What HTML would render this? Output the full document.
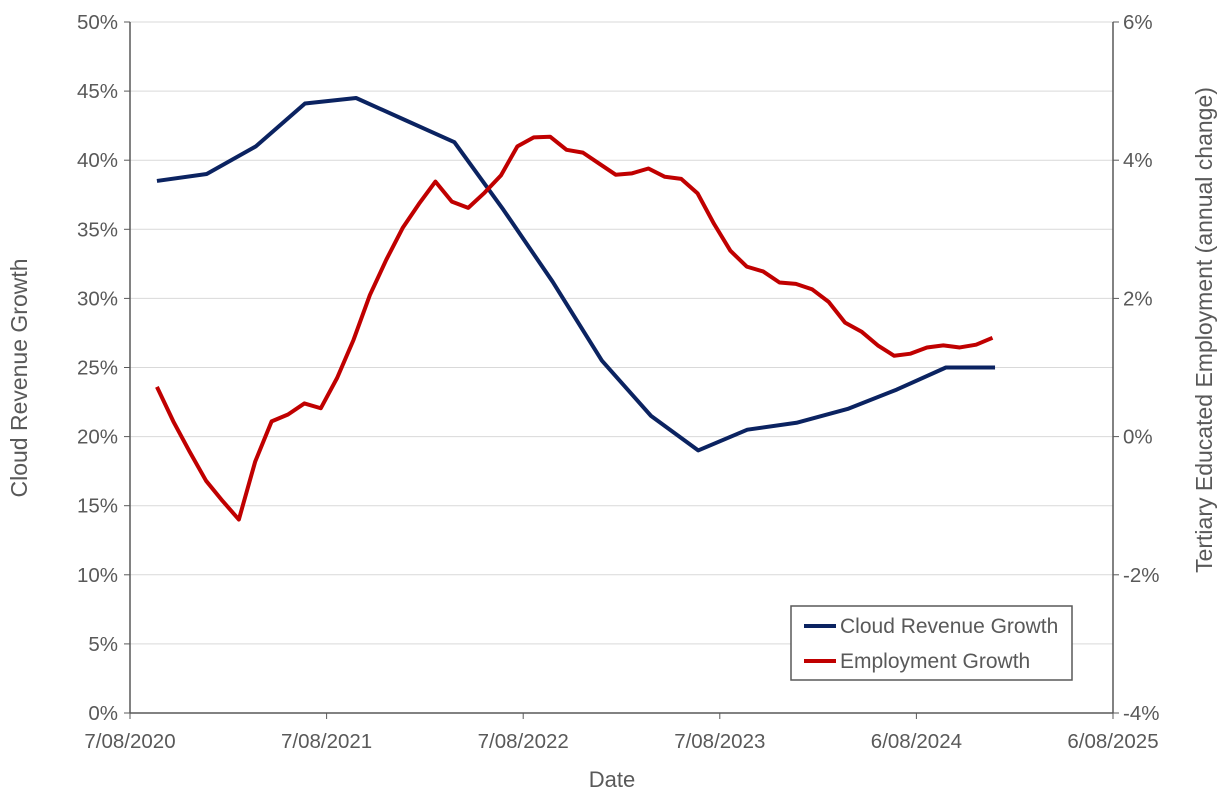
<!DOCTYPE html>
<html><head><meta charset="utf-8"><style>
body{margin:0;background:#fff;font-family:"Liberation Sans",sans-serif;}
svg text{font-family:"Liberation Sans",sans-serif;fill:#595959;font-size:20.5px;}
</style></head><body>
<svg id="chart" width="1221" height="798"></svg>
<script>
const xTickLabels=["7/08/2020","7/08/2021","7/08/2022","7/08/2023","6/08/2024","6/08/2025"];
const leftTicks=[0,5,10,15,20,25,30,35,40,45,50];
const rightTicks=[-4,-2,0,2,4,6];
const cloudX=[0.137,0.39,0.64,0.89,1.15,1.40,1.65,1.90,2.15,2.40,2.65,2.89,3.14,3.39,3.65,3.90,4.15,4.40];
const cloudY=[38.5,39.0,41.0,44.1,44.5,42.9,41.3,36.4,31.2,25.5,21.5,19.0,20.5,21.0,22.0,23.4,25.0,25.0];
const empY=[0.72,0.22,-0.22,-0.64,-0.93,-1.20,-0.36,0.22,0.32,0.48,0.41,0.85,1.40,2.05,2.56,3.02,3.37,3.69,3.40,3.31,3.53,3.78,4.20,4.33,4.34,4.15,4.11,3.95,3.79,3.81,3.88,3.76,3.73,3.52,3.08,2.69,2.46,2.39,2.23,2.21,2.13,1.95,1.65,1.52,1.32,1.17,1.20,1.29,1.32,1.29,1.33,1.43];
const empStart=0.137, empStep=1/12;
const L=130,R=1113,T=22,B=713;
const sx=v=>L+v/5*(R-L);
const sy=v=>B-v/50*(B-T);
const sy2=v=>B-(v+4)/10*(B-T);
const svg=document.getElementById('chart');
const NS="http://www.w3.org/2000/svg";
function mk(tag,attrs,parent){const e=document.createElementNS(NS,tag);for(const k in attrs)e.setAttribute(k,attrs[k]);(parent||svg).appendChild(e);return e;}
leftTicks.forEach(t=>{
 const y=sy(t);
 if(t>0){const g=mk('line',{x1:L,x2:R,y1:y,y2:y,stroke:'#d9d9d9','stroke-width':1});
 
 }
 mk('line',{x1:L-6,x2:L,y1:y,y2:y,stroke:'#595959'});
 const tx=mk('text',{x:L-12,y:y+7,'text-anchor':'end'});tx.textContent=t+'%';
 
 
});
rightTicks.forEach(t=>{
 const y=sy2(t);
 mk('line',{x1:R,x2:R+6,y1:y,y2:y,stroke:'#595959'});
 const tx=mk('text',{x:R+10,y:y+7});tx.textContent=t+'%';
 
 
});
xTickLabels.forEach((s,i)=>{
 const x=sx(i);
 mk('line',{x1:x,x2:x,y1:B,y2:B+6,stroke:'#595959'});
 const tx=mk('text',{x:x,y:B+35,'text-anchor':'middle'});tx.textContent=s;
 
 
});
mk('line',{x1:L,x2:L,y1:T,y2:B,stroke:'#595959','stroke-width':1.5});
mk('line',{x1:R,x2:R,y1:T,y2:B,stroke:'#595959','stroke-width':1.5});
mk('line',{x1:L,x2:R,y1:B,y2:B,stroke:'#595959','stroke-width':1.5});
const cl=mk('polyline',{points:cloudX.map((x,i)=>sx(x)+','+sy(cloudY[i])).join(' '),fill:'none',stroke:'#0b2361','stroke-width':4,'stroke-linejoin':'round'});


const el=mk('polyline',{points:empY.map((v,i)=>sx(empStart+i*empStep)+','+sy2(v)).join(' '),fill:'none',stroke:'#c00000','stroke-width':4,'stroke-linejoin':'round'});


</script>
<svg style="position:absolute;left:0;top:0" width="1221" height="798">
<text x="612" y="787" text-anchor="middle" style="font-size:22px">Date</text>
<text transform="translate(27,378) rotate(-90)" text-anchor="middle" style="font-size:23px">Cloud Revenue Growth</text>
<text transform="translate(1212,330) rotate(-90)" text-anchor="middle" style="font-size:23px">Tertiary Educated Employment (annual change)</text>
<g>
<rect x="791" y="606" width="281" height="74" fill="#fff" stroke="#595959" stroke-width="1.5"/>
<line x1="804" x2="836" y1="626" y2="626" stroke="#0b2361" stroke-width="4"/>
<text x="840" y="633" style="font-size:21px">Cloud Revenue Growth</text>
<line x1="804" x2="836" y1="661" y2="661" stroke="#c00000" stroke-width="4"/>
<text x="840" y="668" style="font-size:21px">Employment Growth</text>
</g>
</svg>
</body></html>
